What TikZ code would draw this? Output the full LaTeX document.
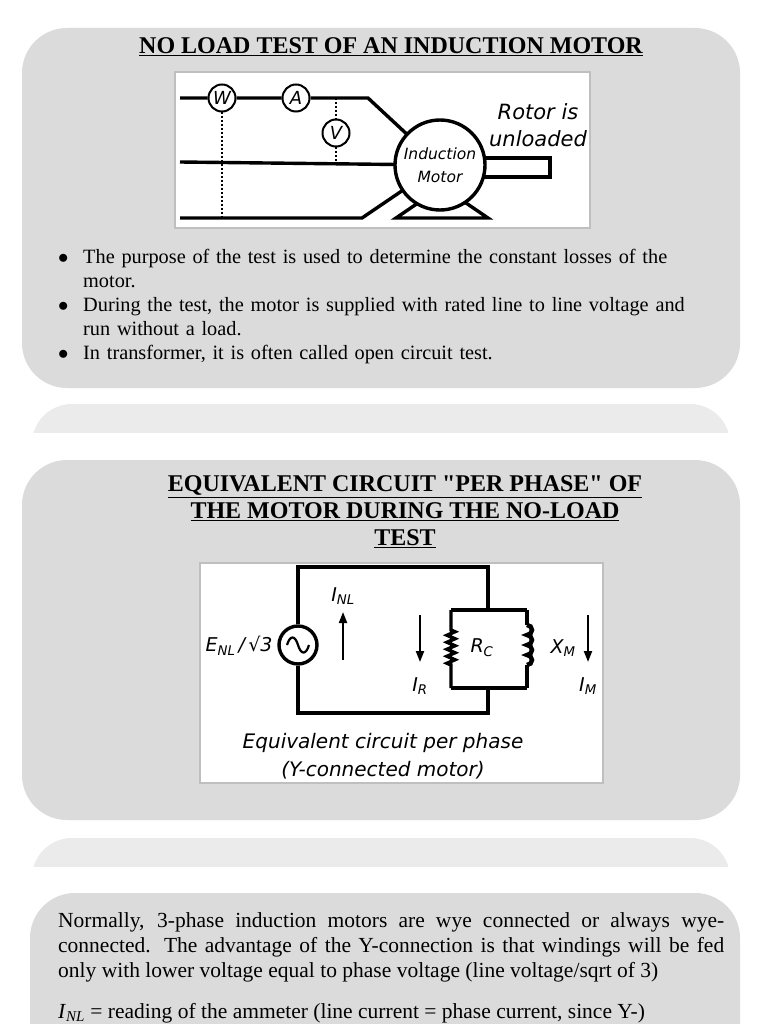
\documentclass[tikz,border=0pt]{standalone}
\usepackage{fontspec}
\setmainfont{Liberation Serif}
\newfontfamily\plainq{Liberation Serif}
\newfontfamily\dia{DejaVu Sans}
\usetikzlibrary{decorations.pathmorphing,arrows.meta}
\begin{document}
\begin{tikzpicture}[x=1pt,y=-1pt,
  panel/.style={fill=black!14,rounded corners=45pt},
  ghost/.style={fill=black!8,rounded corners=40pt},
  wbox/.style={fill=white,draw=black!25,line width=2pt},
  wire/.style={line width=3.4pt},
  meter/.style={circle,draw,line width=2pt,fill=white,minimum size=27pt,inner sep=0pt,font=\dia\itshape\fontsize{18}{18}\selectfont},
  dot/.style={line width=2pt,dotted},
  lab/.style={font=\dia\itshape\fontsize{19}{25}\selectfont,align=center},
  ttl/.style={font=\bfseries\fontsize{24}{27}\selectfont,align=center},
  body/.style={font=\fontsize{20.3}{24}\selectfont,align=left,anchor=north west,inner sep=0pt},
  arr/.style={line width=2pt,-{Triangle[length=11pt,width=8pt]}}]
\clip (0,0) rectangle (768,1024);
\fill[white] (0,0) rectangle (768,1024);
% panels
\fill[panel] (22,28) rectangle (740,388);
\begin{scope}\clip (0,400) rectangle (768,432);
\fill[ghost] (32,404) rectangle (730,480);\end{scope}
\fill[panel] (22,460) rectangle (740,820);
\begin{scope}\clip (0,830) rectangle (768,866);
\fill[ghost] (32,838) rectangle (730,920);\end{scope}
\fill[panel] (30,893) rectangle (740,1100);
% title 1
\node[ttl] (t1) at (391,47) {\underline{NO LOAD TEST OF AN INDUCTION MOTOR}};
% diagram 1
\fill[wbox] (175,72) rectangle (590,228);
\node[meter] (W) at (222,98) {W};
\node[meter] (A) at (296,98) {A};
\node[meter] (V) at (336,133) {V};
\coordinate (M) at (440,165);
\coordinate (l1) at (180,98); \coordinate (l2) at (180,162); \coordinate (l3) at (180,218);
\coordinate (k1) at (368,98); \coordinate (k3) at (362,218);
\draw[wire] (l1) -- (W) -- (A) -- (k1) -- (M);
\draw[wire] (l2) -- (M);
\draw[wire] (l3) -- (k3) -- (M);
\draw[dot] (W.south) -- (W.south |- l3);
\draw[dot] (336,98) -- (V.north);
\draw[dot] (V.south) -- (336,162);
\draw[wire] (440,158) -- (550,158) -- (550,177) -- (440,177);
\draw[wire,fill=white] (396,218) -- (418,203) -- (466,203) -- (488,218) -- cycle;
\node[draw,circle,line width=3.4pt,fill=white,minimum size=90pt,inner sep=0pt] (Mc) at (M) {};
\node[lab,font=\dia\itshape\fontsize{15.5}{23}\selectfont] (ml) at (M) {Induction\\Motor};
\node[lab,font=\dia\itshape\fontsize{21}{27}\selectfont] (rot) at (538,125) {Rotor is\\unloaded};
% bullets
\node[body,text width=660pt] (b1) at (58,249) {%
\makebox[25pt][l]{$\bullet$}The purpose of the test is used to determine the constant losses of the\\
\hspace*{25pt}motor.\\
\makebox[25pt][l]{$\bullet$}During the test, the motor is supplied with rated line to line voltage and\\
\hspace*{25pt}run without a load.\\
\makebox[25pt][l]{$\bullet$}In transformer, it is often called open circuit test.};
% title 2
\node[ttl] (t2) at (405,512) {\underline{EQUIVALENT CIRCUIT {\plainq"}PER PHASE{\plainq"} OF}\\\underline{THE MOTOR DURING THE NO-LOAD}\\\underline{TEST}};
% diagram 2
\fill[wbox] (200,563) rectangle (603,783);
\node[circle,draw,line width=3.4pt,minimum size=38pt,inner sep=0pt] (S) at (298,645) {};
\draw[line width=2.2pt] (287,645) .. controls (290,635) and (295,635) .. (298,645) .. controls (301,655) and (306,655) .. (309,645);
\coordinate (tl) at (298,567); \coordinate (tr) at (488,567);
\coordinate (bl) at (298,713); \coordinate (br) at (488,713);
\draw[wire] (S.north) -- (tl) -- (tr) -- (488,610);
\draw[wire] (S.south) -- (bl) -- (br) -- (488,688);
\draw[wire] (451,610) -- (527,610); \draw[wire] (451,688) -- (527,688);
\draw[wire] (451,610) -- (451,630) decorate[decoration={zigzag,segment length=7pt,amplitude=4pt}]{-- (451,665)} -- (451,688);
\draw[wire] (527,610) -- (527,625);
\draw[line width=4.5pt] (527,625) \foreach \i in {0,1,2,3}{ arc[start angle=90,end angle=-90,radius=5pt] } ;
\draw[wire] (527,665) -- (527,688);
\draw[arr] (343,660) -- (343,612);
\draw[arr] (420,615) -- (420,662);
\draw[arr] (588,615) -- (588,662);
\node[lab,anchor=east] (E) at (276,646) {E\textsubscript{NL}\,/\,√3};
\node[lab] (inl) at (343,596) {I\textsubscript{NL}};
\node[lab] (ir) at (420,686) {I\textsubscript{R}};
\node[lab] (rc) at (482,648) {R\textsubscript{C}};
\node[lab] (xm) at (563,648) {X\textsubscript{M}};
\node[lab] (im) at (588,686) {I\textsubscript{M}};
\node[lab,font=\dia\itshape\fontsize{20}{28}\selectfont] (cap) at (383,756) {Equivalent circuit per phase\\(Y-connected motor)};
% paragraph 3
\node[body,text width=666pt,align=justify,font=\fontsize{21.5}{25}\selectfont] (p3) at (58,912) {Normally, 3-phase induction motors are wye connected or always wye-connected. The advantage of the Y-connection is that windings will be fed only with lower voltage equal to phase voltage (line voltage/sqrt of 3)\par\vspace{16pt}
\noindent\textit{I}\textsubscript{\textit{NL}} = reading of the ammeter (line current = phase current, since Y-)};
\end{tikzpicture}
\end{document}
